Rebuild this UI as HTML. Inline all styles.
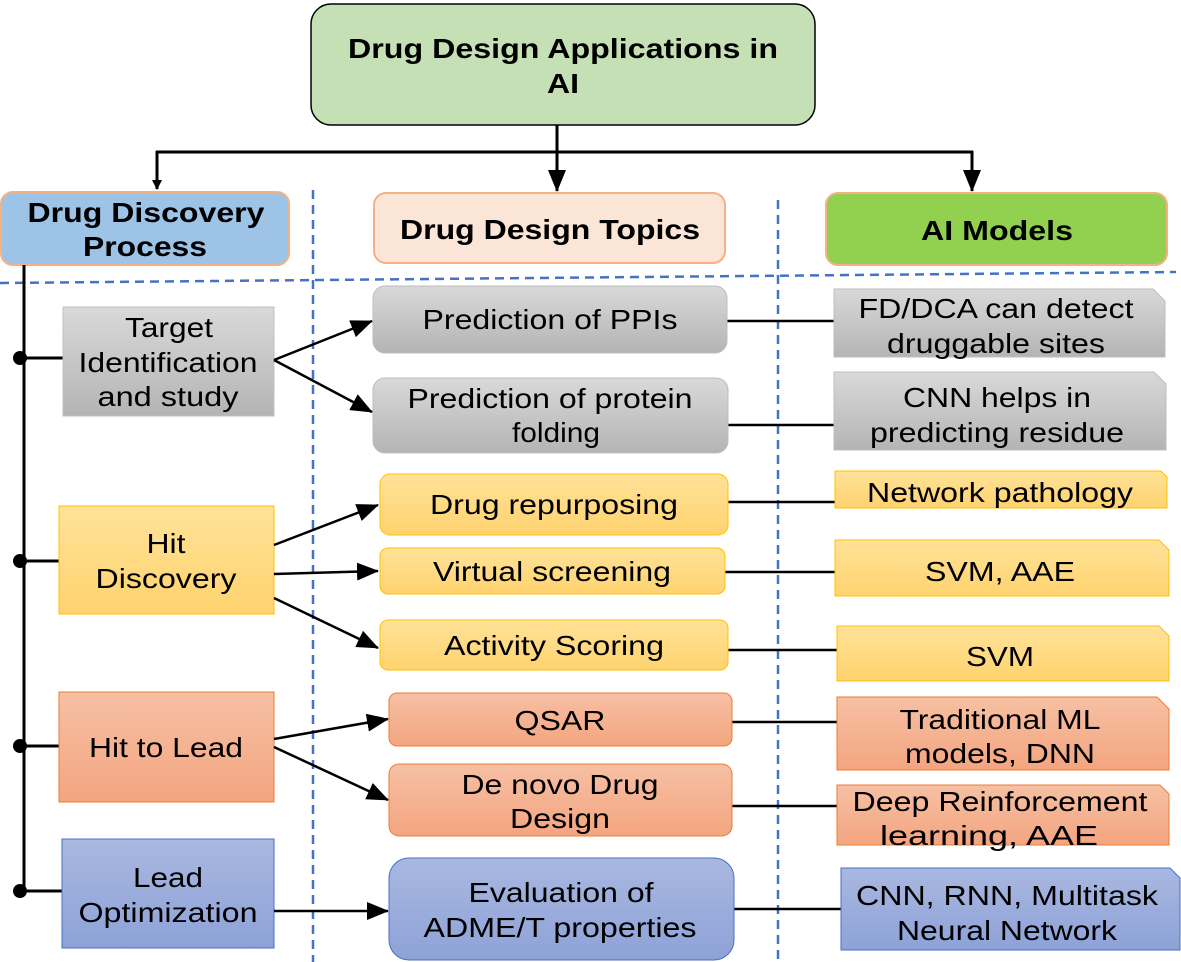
<!DOCTYPE html>
<html><head><meta charset="utf-8"><style>
html,body{margin:0;padding:0;background:#fff;}
svg{display:block;}
svg text{font-family:"Liberation Sans",Arial,Helvetica,sans-serif;}
</style></head><body>
<svg width="1181" height="962" viewBox="0 0 1181 962" xmlns="http://www.w3.org/2000/svg" font-family="Liberation Sans, Arial, Helvetica, sans-serif">
<defs>
<linearGradient id="gG" x1="0" y1="0" x2="0" y2="1"><stop offset="0" stop-color="#d9d9d9"/><stop offset="1" stop-color="#b4b4b4"/></linearGradient>
<linearGradient id="gY" x1="0" y1="0" x2="0" y2="1"><stop offset="0" stop-color="#ffe299"/><stop offset="1" stop-color="#ffd36e"/></linearGradient>
<linearGradient id="gO" x1="0" y1="0" x2="0" y2="1"><stop offset="0" stop-color="#f6c0a4"/><stop offset="1" stop-color="#f4a580"/></linearGradient>
<linearGradient id="gB" x1="0" y1="0" x2="0" y2="1"><stop offset="0" stop-color="#a9b8e0"/><stop offset="1" stop-color="#8ea2d8"/></linearGradient>
<marker id="ar" markerWidth="10" markerHeight="10" refX="9" refY="5" orient="auto" markerUnits="userSpaceOnUse"><path d="M0,0 L10,5 L0,10 Z" fill="#000"/></marker>
<marker id="ar2" markerWidth="22" markerHeight="18" refX="21" refY="9" orient="auto" markerUnits="userSpaceOnUse"><path d="M0,0 L22,9 L0,18 Z" fill="#000"/></marker>
</defs>

<g stroke="#4472c4" stroke-width="2.5" stroke-dasharray="9,6" fill="none">
<line x1="313" y1="190" x2="313" y2="962"/>
<line x1="778" y1="200" x2="778" y2="962"/>
<line x1="0" y1="283" x2="1176" y2="272"/>
</g>

<rect x="311" y="4" width="504" height="121" rx="20" fill="#c5e0b4" stroke="#000" stroke-width="1.5"/>
<g font-size="28" font-weight="bold" text-anchor="middle">
<text x="563" y="58" textLength="430" lengthAdjust="spacingAndGlyphs">Drug Design Applications in</text>
<text x="563" y="93" textLength="32" lengthAdjust="spacingAndGlyphs">AI</text>
</g>

<g stroke="#000" stroke-width="3" fill="none">
<line x1="557" y1="125" x2="557" y2="152"/>
<line x1="156" y1="152" x2="973" y2="152"/>
<line x1="157" y1="151" x2="157" y2="189" marker-end="url(#ar)"/>
<line x1="557" y1="151" x2="557" y2="191" marker-end="url(#ar2)"/>
<line x1="972" y1="151" x2="972" y2="191" marker-end="url(#ar2)"/>
</g>

<rect x="1" y="192" width="288" height="73" rx="12" fill="#9dc3e6" stroke="#f4b183" stroke-width="2"/>
<rect x="374" y="193" width="351" height="70" rx="12" fill="#fbe5d6" stroke="#f4b183" stroke-width="2"/>
<rect x="826" y="193" width="341" height="72" rx="12" fill="#92d050" stroke="#f4b183" stroke-width="2"/>
<g font-size="28" font-weight="bold" text-anchor="middle">
<text x="146" y="222" textLength="237" lengthAdjust="spacingAndGlyphs">Drug Discovery</text>
<text x="145" y="256" textLength="124" lengthAdjust="spacingAndGlyphs">Process</text>
<text x="550" y="239" textLength="300" lengthAdjust="spacingAndGlyphs">Drug Design Topics</text>
<text x="997" y="240" textLength="152" lengthAdjust="spacingAndGlyphs">AI Models</text>
</g>

<g stroke="#000" stroke-width="3">
<line x1="24" y1="265" x2="24" y2="891"/>
<line x1="24" y1="358" x2="63" y2="358"/>
<line x1="24" y1="561" x2="59" y2="561"/>
<line x1="24" y1="746" x2="59" y2="746"/>
<line x1="24" y1="891" x2="62" y2="891"/>
</g>
<g fill="#000"><circle cx="20" cy="358" r="7"/><circle cx="20" cy="561" r="7"/><circle cx="20" cy="746" r="7"/><circle cx="20" cy="891" r="7"/></g>

<rect x="63" y="307" width="211" height="109" fill="url(#gG)" stroke="#c0c0c0"/>
<rect x="59" y="506" width="215" height="108" fill="url(#gY)" stroke="#ffc000"/>
<rect x="59" y="692" width="215" height="110" fill="url(#gO)" stroke="#ed7d31"/>
<rect x="62" y="839" width="212" height="109" fill="url(#gB)" stroke="#4472c4"/>

<g stroke="#000" stroke-width="2.5" fill="none">
<line x1="274" y1="360" x2="372" y2="321" marker-end="url(#ar2)"/>
<line x1="274" y1="360" x2="372" y2="412" marker-end="url(#ar2)"/>
<line x1="274" y1="545" x2="378" y2="505" marker-end="url(#ar2)"/>
<line x1="274" y1="574" x2="378" y2="571" marker-end="url(#ar2)"/>
<line x1="274" y1="598" x2="378" y2="648" marker-end="url(#ar2)"/>
<line x1="274" y1="739" x2="388" y2="719" marker-end="url(#ar2)"/>
<line x1="274" y1="747" x2="388" y2="800" marker-end="url(#ar2)"/>
<line x1="274" y1="911" x2="388" y2="911" marker-end="url(#ar2)"/>
</g>

<g stroke="#000" stroke-width="2.5">
<line x1="727" y1="321" x2="834" y2="321"/>
<line x1="728" y1="425" x2="834" y2="425"/>
<line x1="728" y1="502" x2="835" y2="502"/>
<line x1="725" y1="572" x2="835" y2="572"/>
<line x1="728" y1="650" x2="837" y2="650"/>
<line x1="732" y1="722" x2="837" y2="722"/>
<line x1="732" y1="806" x2="837" y2="806"/>
<line x1="734" y1="909" x2="841" y2="909"/>
</g>

<rect x="373" y="286" width="354" height="67" rx="12" fill="url(#gG)" stroke="#bdbdbd"/>
<rect x="373" y="378" width="355" height="75" rx="12" fill="url(#gG)" stroke="#bdbdbd"/>
<rect x="380" y="474" width="348" height="61" rx="10" fill="url(#gY)" stroke="#ffc000"/>
<rect x="380" y="548" width="345" height="46" rx="8" fill="url(#gY)" stroke="#ffc000"/>
<rect x="380" y="620" width="348" height="50" rx="8" fill="url(#gY)" stroke="#ffc000"/>
<rect x="389" y="693" width="343" height="53" rx="8" fill="url(#gO)" stroke="#ed7d31"/>
<rect x="389" y="764" width="343" height="72" rx="10" fill="url(#gO)" stroke="#ed7d31"/>
<rect x="389" y="858" width="345" height="102" rx="20" fill="url(#gB)" stroke="#4472c4"/>

<path d="M834,289 H1153 L1165,301 V357 H834 Z" fill="url(#gG)" stroke="#bdbdbd"/>
<path d="M834,372 H1154 L1166,384 V450 H834 Z" fill="url(#gG)" stroke="#bdbdbd"/>
<path d="M835,471 H1161 L1167,477 V508 H835 Z" fill="url(#gY)" stroke="#ffc000"/>
<path d="M835,540 H1159 L1169,550 V596 H835 Z" fill="url(#gY)" stroke="#ffc000"/>
<path d="M837,626 H1159 L1169,636 V681 H837 Z" fill="url(#gY)" stroke="#ffc000"/>
<path d="M837,697 H1157 L1169,709 V770 H837 Z" fill="url(#gO)" stroke="#ed7d31"/>
<path d="M837,785 H1160 L1169,794 V845 H837 Z" fill="url(#gO)" stroke="#ed7d31"/>
<path d="M841,868 H1170 L1180,878 V950 H841 Z" fill="url(#gB)" stroke="#4472c4"/>

<g font-size="28" text-anchor="middle">
<text x="169" y="337" textLength="88" lengthAdjust="spacingAndGlyphs">Target</text>
<text x="168" y="372" textLength="179" lengthAdjust="spacingAndGlyphs">Identification</text>
<text x="168" y="406" textLength="141" lengthAdjust="spacingAndGlyphs">and study</text>
<text x="166" y="553" textLength="39" lengthAdjust="spacingAndGlyphs">Hit</text>
<text x="166" y="588" textLength="141" lengthAdjust="spacingAndGlyphs">Discovery</text>
<text x="166" y="757" textLength="154" lengthAdjust="spacingAndGlyphs">Hit to Lead</text>
<text x="168" y="887" textLength="70" lengthAdjust="spacingAndGlyphs">Lead</text>
<text x="168" y="922" textLength="179" lengthAdjust="spacingAndGlyphs">Optimization</text>

<text x="550" y="329" textLength="255" lengthAdjust="spacingAndGlyphs">Prediction of PPIs</text>
<text x="550" y="408" textLength="285" lengthAdjust="spacingAndGlyphs">Prediction of protein</text>
<text x="556" y="442" textLength="88" lengthAdjust="spacingAndGlyphs">folding</text>
<text x="554" y="514" textLength="248" lengthAdjust="spacingAndGlyphs">Drug repurposing</text>
<text x="552" y="581" textLength="238" lengthAdjust="spacingAndGlyphs">Virtual screening</text>
<text x="554" y="655" textLength="220" lengthAdjust="spacingAndGlyphs">Activity Scoring</text>
<text x="560" y="730" textLength="91" lengthAdjust="spacingAndGlyphs">QSAR</text>
<text x="560" y="794" textLength="197" lengthAdjust="spacingAndGlyphs">De novo Drug</text>
<text x="560" y="828" textLength="100" lengthAdjust="spacingAndGlyphs">Design</text>
<text x="561" y="902" textLength="185" lengthAdjust="spacingAndGlyphs">Evaluation of</text>
<text x="560" y="937" textLength="273" lengthAdjust="spacingAndGlyphs">ADME/T properties</text>

<text x="996" y="318" textLength="275" lengthAdjust="spacingAndGlyphs">FD/DCA can detect</text>
<text x="996" y="353" textLength="218" lengthAdjust="spacingAndGlyphs">druggable sites</text>
<text x="997" y="407" textLength="188" lengthAdjust="spacingAndGlyphs">CNN helps in</text>
<text x="997" y="442" textLength="254" lengthAdjust="spacingAndGlyphs">predicting residue</text>
<text x="1000" y="502" textLength="266" lengthAdjust="spacingAndGlyphs">Network pathology</text>
<text x="1000" y="581" textLength="150" lengthAdjust="spacingAndGlyphs">SVM, AAE</text>
<text x="1000" y="666" textLength="68" lengthAdjust="spacingAndGlyphs">SVM</text>
<text x="1000" y="729" textLength="201" lengthAdjust="spacingAndGlyphs">Traditional ML</text>
<text x="1000" y="763" textLength="190" lengthAdjust="spacingAndGlyphs">models, DNN</text>
<text x="1000" y="811" textLength="295" lengthAdjust="spacingAndGlyphs">Deep Reinforcement</text>
<text x="989" y="845" textLength="218" lengthAdjust="spacingAndGlyphs">learning, AAE</text>
<text x="1007" y="905" textLength="302" lengthAdjust="spacingAndGlyphs">CNN, RNN, Multitask</text>
<text x="1007" y="940" textLength="220" lengthAdjust="spacingAndGlyphs">Neural Network</text>
</g>
</svg>
</body></html>
